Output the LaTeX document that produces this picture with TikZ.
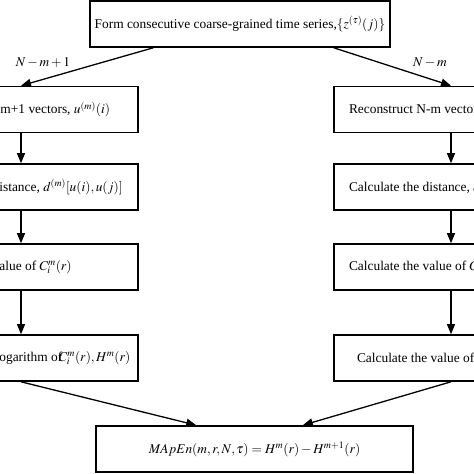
\documentclass[tikz,border=0pt]{standalone}
\usepackage{amsmath}
\usepackage{mathptmx}
\usepackage{fontspec}
\setmainfont{Liberation Serif}
\usepackage{tikz}
\usetikzlibrary{positioning, arrows, arrows.meta}

\newcommand{\lefttext}[1]{\makebox[204pt][l]{#1}}

\begin{document}
\begin{tikzpicture}[x=1pt, y=-1pt,
  every node/.style={font=\fontsize{13.4pt}{16pt}\selectfont},
  box/.style={draw, line width=1.6pt, minimum height=46pt, inner ysep=0pt},
  sidebox/.style={box, minimum width=234pt, inner xsep=15pt},
  flow/.style={line width=1.3pt, -{Triangle[length=10pt, width=8pt]}}]
\useasboundingbox (0,0) rectangle (474,474);
\clip (0,0) rectangle (474,474);

% --- Top ---
\node[box, minimum width=300pt, inner xsep=1pt] (top) at (240,24)
  {Form consecutive coarse-grained time series,$\{z^{(\tau)}(j)\}$};

% --- Left branch ---
\node[sidebox] (l1) at (21,109.5) {\lefttext{Reconstruct N-m+1 vectors, $u^{(m)}(i)$}};
\node[sidebox] (l2) at (21,187) {\lefttext{Calculate the distance, $d^{(m)}[u(i),u(j)]$}};
\node[sidebox] (l3) at (21,267) {\lefttext{Calculate the value of $C_i^m(r)$}};
\node[sidebox] (l4) at (21,358) {\lefttext{\hspace{3pt}Calculate the logarithm o\rlap{f}\hspace{1pt}$C_i^m(r),H^m(r)$}};

% --- Right branch ---
\node[sidebox] (r1) at (451,109.5) {\lefttext{Reconstruct N-m vectors, $u^{(m+1)}(i)$}};
\node[sidebox] (r2) at (451,187) {\lefttext{Calculate the distance, $d^{(m+1)}[u(i),u(j)]$}};
\node[sidebox] (r3) at (451,267) {\lefttext{Calculate the value of $C_i^{m+1}(r)$}};
\node[sidebox] (r4) at (451,358) {\lefttext{\hspace{8pt}Calculate the value of $H^{m+1}(r)$}};

% --- Bottom ---
\node[box, minimum width=317pt] (bot) at (254.5,449)
  {$MApEn(m,r,N,\tau)=H^m(r)-H^{m+1}(r)$};

% --- Labels ---
\node (nleft) at (43,63) {$N-m+1$};
\node (nright) at (430,63) {$N-m$};

% --- Arrows ---
\draw[flow] ([xshift=64pt]top.south west) -- (l1.north);
\draw[flow] ([xshift=-57pt]top.south east) -- (r1.north);
\draw[flow] (l1.south) -- (l2.north);
\draw[flow] (l2.south) -- (l3.north);
\draw[flow] (l3.south) -- (l4.north);
\draw[flow] (r1.south) -- (r2.north);
\draw[flow] (r2.south) -- (r3.north);
\draw[flow] (r3.south) -- (r4.north);
\draw[flow] (l4.south) -- ([xshift=101pt]bot.north west);
\draw[flow] (r4.south) -- ([xshift=-111pt]bot.north east);
\end{tikzpicture}
\end{document}
